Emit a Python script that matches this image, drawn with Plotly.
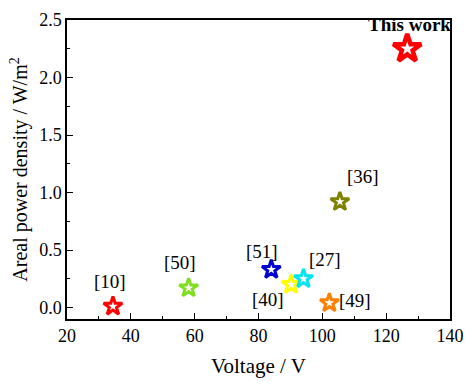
import plotly.graph_objects as go

refs = ["[10]", "[50]", "[51]", "[40]", "[27]", "[49]", "[36]", "This work"]
voltage = [34.4, 58.1, 84.0, 90.2, 94.1, 102.2, 105.5, 126.6]
power = [0.01, 0.17, 0.33, 0.20, 0.25, 0.04, 0.92, 2.25]
colors = ["#ff0000", "#80e020", "#0000d0", "#ffff00", "#00e5f0", "#ff8000", "#808000", "#ff0000"]
sizes = [14, 14, 14, 14, 14, 14, 14, 21]
line_widths = [3, 3, 3, 3, 3, 3, 3, 4.5]
label_x = [33.6, 55.5, 81.0, 83.0, 100.8, 110.1, 112.6, 127.4]
label_y = [0.23, 0.39, 0.49, 0.07, 0.42, 0.06, 1.14, 2.46]

font = "Liberation Serif, Times New Roman, serif"

fig = go.Figure()
fig.add_trace(go.Scatter(
    x=voltage, y=power, mode="markers",
    marker=dict(symbol="star", size=sizes, color="white", opacity=1,
                line=dict(color=colors, width=line_widths)),
    showlegend=False, hoverinfo="skip"))

for r, lx, ly in zip(refs, label_x, label_y):
    bold = r == "This work"
    fig.add_annotation(x=lx, y=ly, text=f"<b>{r}</b>" if bold else r,
                       showarrow=False, font=dict(family=font, size=19, color="black"))

axis_common = dict(showline=True, linecolor="black", linewidth=1.5, mirror=True,
                   ticks="inside", ticklen=6, tickwidth=1.2, tickcolor="black",
                   showgrid=False, zeroline=False,
                   tickfont=dict(family=font, size=18, color="black"))

fig.update_xaxes(range=[20, 140], dtick=20,
                 title=dict(text="Voltage / V", font=dict(family=font, size=21, color="black"), standoff=13),
                 minor=dict(ticks="inside", ticklen=3, dtick=10, tickcolor="black"), **axis_common)
fig.update_yaxes(range=[-0.1, 2.5], tick0=0, dtick=0.5, tickformat=".1f",
                 title=dict(text="Areal power density / W/m<sup>2</sup>", font=dict(family=font, size=20, color="black"), standoff=6),
                 minor=dict(ticks="inside", ticklen=3, dtick=0.25, tickcolor="black"), **axis_common)

fig.update_layout(width=474, height=384, plot_bgcolor="white", paper_bgcolor="white",
                  margin=dict(l=67, r=18, t=10, b=62))
fig.write_html("out.html", config={"displayModeBar": False},
               post_script="document.body.style.margin='0';")
